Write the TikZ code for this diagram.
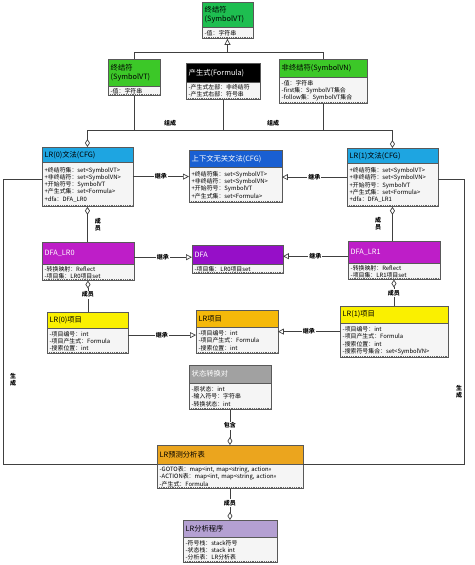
\documentclass[tikz,border=0pt]{standalone}
\usepackage{fontspec}
\setmainfont{Noto Sans CJK SC}
\usepackage{tikz}
\usetikzlibrary{arrows.meta,calc}
\definecolor{symgreen}{RGB}{30,190,80}
\definecolor{leafgreen}{RGB}{60,200,40}
\definecolor{lrblue}{RGB}{30,165,225}
\definecolor{cfgblue}{RGB}{25,95,210}
\definecolor{dfapink}{RGB}{190,30,200}
\definecolor{dfapurple}{RGB}{150,15,200}
\definecolor{itemyellow}{RGB}{250,240,0}
\definecolor{itemorange}{RGB}{245,185,10}
\definecolor{tableorange}{RGB}{235,165,30}
\definecolor{proglilac}{RGB}{180,160,210}
\tikzstyle{head}=[draw=black!65, anchor=north west, align=left, inner xsep=2.5pt, inner ysep=1pt, font=\fontsize{7.3}{8.3}\selectfont]
\tikzstyle{attr}=[draw=black!65, fill=black!4, anchor=north west, align=left, inner xsep=2.5pt, inner ysep=1.5pt, font=\fontsize{5.9}{7.3}\selectfont, path picture={\draw[black!60, densely dotted, line width=0.8pt] ([yshift=1.2pt]path picture bounding box.south west) -- ([yshift=1.2pt]path picture bounding box.south east);}]
\tikzstyle{rel}=[draw=black!75, line width=0.7pt]
\tikzstyle{isa}=[rel, -{Triangle[open,length=6pt,width=6pt]}]
\tikzstyle{has}=[rel, {Diamond[open,length=8pt,width=5pt]}-]
\tikzstyle{tag}=[fill=white, inner sep=1pt, align=center, font=\fontsize{6}{7}\selectfont\bfseries]

\begin{document}
\begin{tikzpicture}[x=1pt,y=-1pt]
	\useasboundingbox (0,0) rectangle (474,565);
	% symbols
	\node[head, fill=symgreen, text width=45.5pt, minimum height=25pt] (sym) at (202,2) {终结符\\(SymbolVT)};
	\node[attr, text width=45.5pt, minimum height=11pt] (symA) at (sym.south west) {-值：字符串};
	\node[head, fill=leafgreen, text width=46.5pt, minimum height=27pt] (vt) at (108,59) {终结符\\(SymbolVT)};
	\node[attr, text width=46.5pt, minimum height=9pt] (vtA) at (vt.south west) {-值：字符串};
	\node[head, fill=black, text=white, text width=68.5pt, minimum height=19pt] (formula) at (186,63) {产生式(Formula)};
	\node[attr, text width=68.5pt, minimum height=17pt] (formulaA) at (formula.south west) {-产生式左部：非终结符\\-产生式右部：符号串};
	\node[head, fill=leafgreen, text width=82.5pt, minimum height=18pt] (vn) at (279,59) {非终结符(SymbolVN)};
	\node[attr, text width=82.5pt, minimum height=26pt] (vnA) at (vn.south west) {-值：字符串\\-first集：SymbolVT集合\\-follow集：SymbolVT集合};
	% grammars
	\node[head, fill=lrblue, text width=85.5pt, minimum height=15pt] (lr0g) at (42,147) {LR(0)文法(CFG)};
	\node[attr, text width=85.5pt, minimum height=44pt] (lr0gA) at (lr0g.south west) {+终结符集：set<SymbolVT>\\+非终结符：set<SymbolVN>\\+开始符号：SymbolVT\\+产生式集：set<Formula>\\+dfa：DFA\_LR0};
	\node[head, fill=cfgblue, text=white, text width=87.5pt, minimum height=17pt] (cfg) at (189,150) {上下文无关文法(CFG)};
	\node[attr, text width=87.5pt, minimum height=35pt] (cfgA) at (cfg.south west) {+终结符集：set<SymbolVT>\\+非终结符：set<SymbolVN>\\+开始符号：SymbolVT\\+产生式集：set<Formula>};
	\node[head, fill=lrblue, text width=85.5pt, minimum height=15pt] (lr1g) at (347,148) {LR(1)文法(CFG)};
	\node[attr, text width=85.5pt, minimum height=43pt] (lr1gA) at (lr1g.south west) {+终结符集：set<SymbolVT>\\+非终结符：set<SymbolVN>\\+开始符号：SymbolVT\\+产生式集：set<Formula>\\+dfa：DFA\_LR1};
	% automata
	\node[head, fill=dfapink, text=white, text width=86.5pt, minimum height=22pt] (dfa0) at (42,242) {DFA\_LR0};
	\node[attr, text width=86.5pt, minimum height=14pt] (dfa0A) at (dfa0.south west) {-转换映射：Reflect\\-项目集：LR0项目set};
	\node[head, fill=dfapurple, text=white, text width=85.5pt, minimum height=19pt] (dfa) at (192,245) {DFA};
	\node[attr, text width=85.5pt, minimum height=9pt] (dfaA) at (dfa.south west) {-项目集：LR0项目set};
	\node[head, fill=dfapink, text=white, text width=86.5pt, minimum height=22pt] (dfa1) at (348,241) {DFA\_LR1};
	\node[attr, text width=86.5pt, minimum height=14pt] (dfa1A) at (dfa1.south west) {-转换映射：Reflect\\-项目集：LR1项目set};
	% items
	\node[head, fill=itemyellow, text width=75.5pt, minimum height=16pt] (item0) at (47,312) {LR(0)项目};
	\node[attr, text width=75.5pt, minimum height=25pt] (item0A) at (item0.south west) {-项目编号：int\\-项目产生式：Formula\\-搜索位置：int};
	\node[head, fill=itemorange, text width=76.5pt, minimum height=17pt] (item) at (196,310) {LR项目};
	\node[attr, text width=76.5pt, minimum height=26pt] (itemA) at (item.south west) {-项目编号：int\\-项目产生式：Formula\\-搜索位置：int};
	\node[head, fill=itemyellow, text width=102.5pt, minimum height=17pt] (item1) at (340,306) {LR(1)项目};
	\node[attr, text width=102.5pt, minimum height=34pt] (item1A) at (item1.south west) {-项目编号：int\\-项目产生式：Formula\\-搜索位置：int\\-搜索符号集合：set<SymbolVN>};
	% table and program
	\node[head, fill=black!37, text=white, text width=76.5pt, minimum height=18pt] (trans) at (189,365) {状态转换对};
	\node[attr, text width=76.5pt, minimum height=26pt] (transA) at (trans.south west) {-原状态：int\\-输入符号：字符串\\-转换状态：int};
	\node[head, fill=tableorange, text width=140.5pt, minimum height=19pt] (table) at (157,445) {LR预测分析表};
	\node[attr, text width=140.5pt, minimum height=24pt] (tableA) at (table.south west) {-GOTO表：map<int, map<string, action>>\\-ACTION表：map<int, map<string, action>>\\-产生式：Formula};
	\node[head, fill=proglilac, text width=88.5pt, minimum height=17pt] (prog) at (183,520) {LR分析程序};
	\node[attr, text width=88.5pt, minimum height=25pt] (progA) at (prog.south west) {-符号栈：stack符号\\-状态栈：stack int\\-分析表：LR分析表};

	% inheritance of symbols
	\coordinate (symJ) at ($(symA.south)+(0,14)$);
	\draw[rel] (vt.north) |- (symJ) -| (vn.north);
	\draw[isa] (symJ) -- (symA.south);
	% composition
	\coordinate (compL) at (lr0g.north |- 0,130);
	\coordinate (compR) at (lr1g.north |- 0,130);
	\draw[rel] (compL) -- (compR);
	\draw[rel] (vtA.south) -- (vtA.south |- compL);
	\draw[rel] (formulaA.south) -- (formulaA.south |- compL);
	\draw[rel] (vnA.south) -- (vnA.south |- compL);
	\draw[has] (lr0g.north) -- (compL);
	\draw[has] (lr1g.north) -- (compR);
	\node[tag] (compT1) at (170,123) {组成};
	\node[tag] (compT2) at (273,123) {组成};
	% inheritance
	\draw[isa] ([yshift=8pt]lr0gA.east) -- ([yshift=8pt]lr0gA.east -| cfgA.west) node[tag, midway] (inhT1) {继承};
	\draw[isa] ([yshift=8pt]lr1gA.west) -- ([yshift=8pt]lr1gA.west -| cfgA.east) node[tag, midway] (inhT2) {继承};
	\draw[isa] ([yshift=-4pt]dfa0.east) -- ([yshift=-4pt]dfa0.east -| dfa.west) node[tag, midway] (inhT3) {继承};
	\draw[isa] ([yshift=-4pt]dfa1.west) -- ([yshift=-4pt]dfa1.west -| dfa.east) node[tag, midway] (inhT4) {继承};
	\draw[isa] ([yshift=6pt]item0A.east) -- ([yshift=6pt]item0A.east -| itemA.west) node[tag, midway] (inhT5) {继承};
	\draw[isa] ([yshift=9pt]item1A.west) -- ([yshift=9pt]item1A.west -| itemA.east) node[tag, midway] (inhT6) {继承};
	% members
	\draw[has] (lr0gA.south) -- (lr0gA.south |- dfa0.north) node[tag, midway, right=6pt] (memT1) {成\\员};
	\draw[has] (lr1gA.south) -- (lr1gA.south |- dfa1.north) node[tag, midway, left=10pt] (memT2) {成\\员};
	\draw[has] (dfa0A.south) -- (dfa0A.south |- item0.north) node[tag, pos=0.45] (memT3) {成员};
	\draw[has] (dfa1A.south) -- (dfa1A.south |- item1.north) node[tag, pos=0.5] (memT4) {成员};
	\draw[has] (table.north) -- (transA.south) node[tag, pos=0.55] (conT) {包含};
	\draw[has] (prog.north) -- (tableA.south) node[tag, pos=0.55] (memT5) {成员};
	% generation
	\coordinate (sideL) at (3,0);
	\coordinate (sideR) at (464,0);
	\draw[rel] ([yshift=5pt]lr0gA.west) -- ([yshift=5pt]lr0gA.west -| sideL) |- (tableA.north west);
	\draw[rel] ([yshift=6pt]lr1gA.east) -- ([yshift=6pt]lr1gA.east -| sideR) |- (tableA.north east);
	\node[tag] (genT1) at (13,380) {生\\成};
	\node[tag] (genT2) at (459,392) {生\\成};
\end{tikzpicture}
\end{document}
